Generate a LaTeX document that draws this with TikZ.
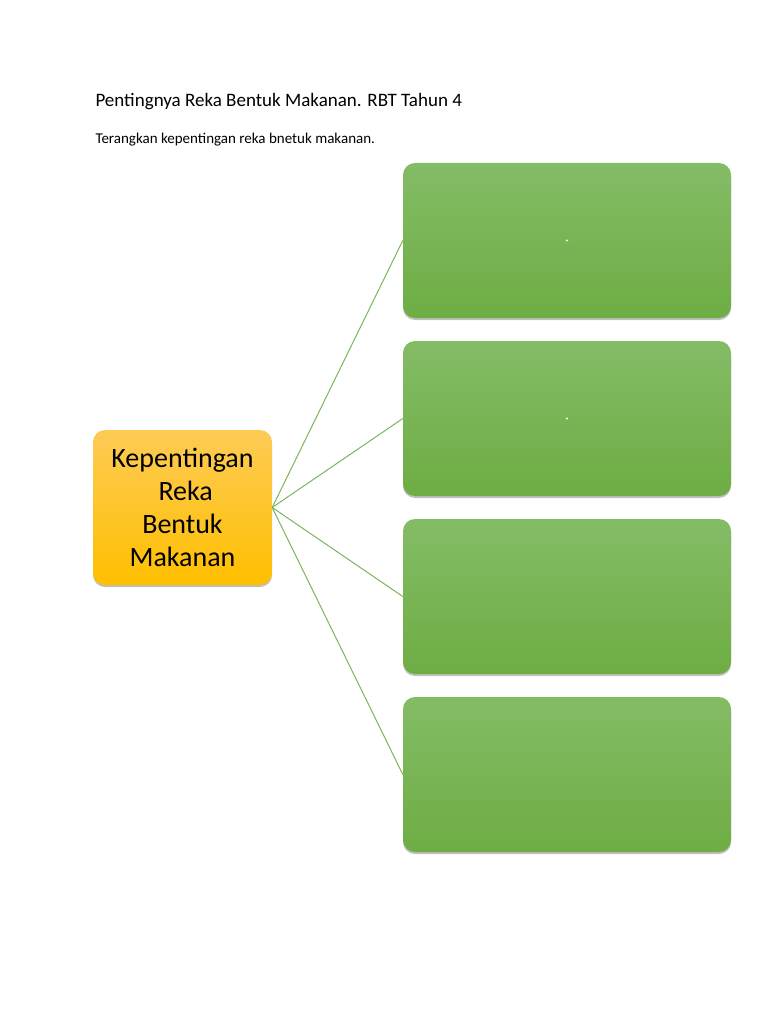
\documentclass[tikz,border=0pt]{standalone}
\usepackage{fontspec}
\setmainfont{Carlito}
\usetikzlibrary{shadows}
\definecolor{gtop}{HTML}{84BC66}
\definecolor{gbot}{HTML}{6EAD44}
\definecolor{otop}{HTML}{FDCB55}
\definecolor{obot}{HTML}{FFBF00}
\definecolor{lnk}{HTML}{7CB55A}
\begin{document}
\begin{tikzpicture}[x=1pt,y=-1pt,
  gbox/.style={rounded corners=12pt,top color=gtop,bottom color=gbot,minimum width=328pt,minimum height=155pt,inner sep=0pt,drop shadow={shadow xshift=0pt,shadow yshift=-2pt,opacity=0.5}},
  obox/.style={rounded corners=12pt,top color=otop,bottom color=obot,minimum width=179pt,minimum height=155pt,inner sep=0pt,align=center,font=\fontsize{28}{33}\selectfont,drop shadow={shadow xshift=0pt,shadow yshift=-2pt,opacity=0.5}},
  link/.style={draw=lnk,line width=1pt}]
\useasboundingbox (0,0) rectangle (768,1024);
\node[anchor=west,font=\fontsize{19}{22}\selectfont] (title) at (92,102) {Pentingnya Reka Bentuk Makanan. RBT Tahun 4};
\node[anchor=west,font=\fontsize{15}{18}\selectfont] (sub) at (92,140) {Terangkan kepentingan reka bnetuk makanan.};
\node[obox] (c) at (182.5,507.5) {Kepentingan\\\ Reka\\Bentuk\\Makanan};
\node[gbox] (b1) at (567,240.5) {};
\node[gbox] (b2) at (567,418.5) {};
\node[gbox] (b3) at (567,596.5) {};
\node[gbox] (b4) at (567,774.5) {};
\fill[white] (b1.center) circle (1.2pt);
\fill[white] (b2.center) circle (1.2pt);
\foreach \b in {b1,b2,b3,b4} \draw[link] (c.east) -- (\b.west);
\end{tikzpicture}
\end{document}
